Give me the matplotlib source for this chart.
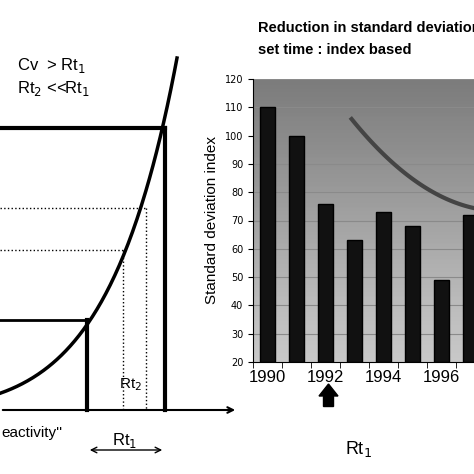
import numpy as np
import matplotlib.pyplot as plt

# right chart data
years = [1990, 1991, 1992, 1993, 1994, 1995, 1996, 1997]
sd_index = [110, 100, 76, 63, 73, 68, 49, 72]
trend_x = [1992.9, 1993.5, 1994.0, 1995.0, 1996.0, 1997.0, 1997.5]
trend_y = [107, 98, 92, 85, 79.5, 75, 73]
tick_years = [1990, 1992, 1994, 1996]

# left sketch curve (pixel coords)
curve_px = [0, 40, 87, 123, 145, 165, 177]
curve_py = [393, 375, 320, 250, 208, 128, 40]

fig = plt.figure(figsize=(4.74, 4.74), dpi=100)
ax = fig.add_axes([0, 0, 1, 1])
ax.set_xlim(0, 474)
ax.set_ylim(474, 0)
ax.axis("off")

coef = np.polyfit(curve_px, np.log(410 - np.array(curve_py)), 3)
xx = np.linspace(0, 177, 200)
ax.plot(xx, 410 - np.exp(np.polyval(coef, xx)), color="black", lw=2.5)

ax.plot([0, 165], [128, 128], color="black", lw=3)
ax.plot([0, 87], [320, 320], color="black", lw=2)
ax.plot([165, 165], [128, 410], color="black", lw=3)
ax.plot([87, 87], [320, 410], color="black", lw=3)
ax.plot([0, 145], [208, 208], color="black", lw=1, ls=":")
ax.plot([0, 123], [250, 250], color="black", lw=1, ls=":")
ax.plot([123, 123], [250, 410], color="black", lw=1, ls=":")
ax.plot([146, 146], [208, 410], color="black", lw=1, ls=":")
ax.annotate("", xy=(238, 410), xytext=(0, 410),
            arrowprops=dict(arrowstyle="->", lw=1.5, color="black"))
ax.annotate("", xy=(165, 450), xytext=(87, 450),
            arrowprops=dict(arrowstyle="<->", lw=1, color="black"))

tf = dict(family="Liberation Sans", color="black")
ax.text(17, 65, "Cv  > Rt$_1$", fontsize=12, va="center", **tf)
ax.text(17, 88, "Rt$_2$ <<Rt$_1$", fontsize=12, va="center", **tf)
ax.text(119, 385, "Rt$_2$", fontsize=11, va="center", **tf)
ax.text(1, 433, "eactivity''", fontsize=11, va="center", **tf)
ax.text(112, 440, "Rt$_1$", fontsize=12, va="center", **tf)
ax.text(258, 28, "Reduction in standard deviation", fontsize=10.5, weight="bold", va="center", **tf)
ax.text(258, 50, "set time : index based", fontsize=10.5, weight="bold", va="center", **tf)
ax.text(345, 449, "Rt$_1$", fontsize=13, va="center", **tf)
ax.add_patch(plt.Polygon([[319, 396], [338, 396], [328.5, 384]], color="black"))
ax.add_patch(plt.Rectangle((323.5, 396), 10, 10, color="black"))

# bar chart: axes from x=253 px, y from 79 to 362 px
x0, x1 = 1989.5, 1997.5
ax2 = fig.add_axes([253 / 474, 1 - 362 / 474, (x1 - x0) * 29 / 474, 283 / 474])
ax2.set_xlim(x0, x1)
ax2.set_ylim(20, 120)
grad = np.linspace(1, 0, 256).reshape(-1, 1)
ax2.imshow(grad, extent=[x0, x1, 20, 120], aspect="auto", cmap="Greys",
           vmin=-1.2, vmax=2.5, zorder=0)
ax2.set_yticks(range(20, 121, 10))
for v in range(30, 121, 10):
    ax2.axhline(v, color="#8a8a8a", lw=0.8, zorder=1)
ax2.bar(years, [v - 20 for v in sd_index], bottom=20, width=0.5,
        color="#111111", edgecolor="black", zorder=2)
tc = np.polyfit(trend_x, trend_y, 2)
tx = np.linspace(trend_x[0], trend_x[-1], 100)
ax2.plot(tx, np.polyval(tc, tx), color="#444444", lw=3, zorder=3)
ax2.set_xticks(tick_years)
ax2.set_xticks([y + 0.5 for y in range(1989, 1998)], minor=True)
ax2.set_xticklabels([str(y) for y in tick_years], fontsize=12, family="Liberation Sans")
ax2.tick_params(axis="y", labelsize=7)
ax2.tick_params(axis="x", length=0, pad=6)
ax2.tick_params(axis="x", which="minor", length=4)
ax2.set_ylabel("Standard deviation index", fontsize=11, family="Liberation Sans")
ax2.spines["top"].set_visible(False)
ax2.spines["right"].set_visible(False)

fig.savefig("out.png", dpi=100)
